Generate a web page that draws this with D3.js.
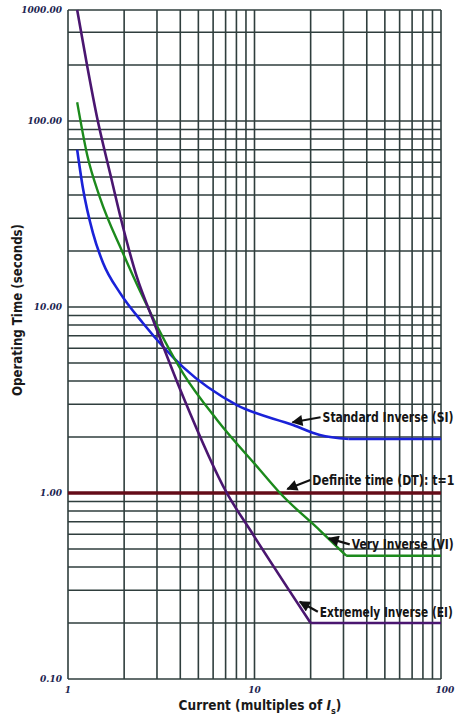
<!DOCTYPE html>
<html>
<head>
<meta charset="utf-8">
<script src="https://cdn.jsdelivr.net/npm/d3@7"></script>
<style>
  body { margin: 0; background: #fff; }
  svg { display: block; }
  .lbl { font-family: "DejaVu Sans Condensed", "Liberation Sans Narrow", sans-serif; font-weight: bold; }
</style>
</head>
<body>
<div class="chart"></div>
<script>
// values: current in multiples of Is, time in seconds
const siCurrent = [1.12, 1.2, 1.36, 1.54, 1.9, 2.52, 4.14, 8.05, 16.1, 22.4, 32, 100];
const siTimes = [70, 44, 25, 17.3, 11.9, 8.2, 4.75, 2.97, 2.32, 2.05, 1.95, 1.95];
const viCurrent = [1.12, 1.27, 1.48, 1.97, 2.52, 4.14, 6.3, 10.7, 13.7, 22.4, 31, 100];
const viTimes = [126, 65, 39, 19.5, 11.3, 4.4, 2.47, 1.33, 1.0, 0.63, 0.46, 0.46];
const eiCurrent = [1.12, 1.27, 1.43, 1.68, 1.97, 2.34, 2.86, 4.14, 7.1, 9.5, 20, 100];
const eiTimes = [395, 195, 105, 52.5, 27, 14.5, 8.5, 3.3, 1.0, 0.63, 0.2, 0.2];
const dtCurrent = [1, 100];
const dtTimes = [1, 1];

const yTicks = [0.1, 1, 10, 100];
const yTickLabels = ["0.10", "1.00", "10.00", "100.00"];
const topLabel = "1000.00";
const xTicks = [1, 10, 100];
const xTickLabels = ["1", "10", "100"];

// curve labels: text, current and time at the arrow tip
const calloutText = ["Standard Inverse (SI)", "Definite time (DT): t=1", "Very Inverse (VI)", "Extremely Inverse (EI)"];
const calloutCurrent = [16, 15, 25, 17.5];
const calloutTime = [2.4, 1.05, 0.57, 0.26];

// layout of each callout: [text dx, text dy, text width] relative to the tip
const calloutLayout = [[30, -1, 131], [25, -5, 142], [23, 10, 102], [20, 14, 133]];

const width = 474, height = 716;
const svg = d3.select(".chart").append("svg")
  .attr("width", width).attr("height", height);

const x = d3.scaleLog().domain([1, 100]).range([68, 441]);
const y = d3.scaleLog().domain([0.1, 395]).range([679, 10]);

const gridCol = "#2f3e3d";

// grid
const xGrid = [];
for (let d = 1; d < 100; d *= 10) for (let k = 1; k < 10; k++) xGrid.push(d * k);
xGrid.push(100);
const yGrid = [];
for (let d = 0.1; d < 300; d *= 10) for (let k = 1; k < 10; k++) { const v = +(d * k).toPrecision(3); if (v <= 395) yGrid.push(v); }

const g = svg.append("g");
g.selectAll(".vgrid").data(xGrid).join("line")
  .attr("class", "vgrid")
  .attr("x1", d => x(d)).attr("x2", d => x(d))
  .attr("y1", y(0.1)).attr("y2", y(395))
  .attr("stroke", gridCol).attr("stroke-width", 1.6);
g.selectAll(".hgrid").data(yGrid).join("line")
  .attr("class", "hgrid")
  .attr("x1", x(1)).attr("x2", x(100))
  .attr("y1", d => y(d)).attr("y2", d => y(d))
  .attr("stroke", gridCol).attr("stroke-width", 1.6);
g.append("line").attr("x1", x(1)).attr("x2", x(100)).attr("y1", y(395)).attr("y2", y(395))
  .attr("stroke", gridCol).attr("stroke-width", 1.6);

// curves: curved part smooth, flat tail straight
const smooth = d3.line().x(d => x(d[0])).y(d => y(d[1])).curve(d3.curveMonotoneX);
const straight = d3.line().x(d => x(d[0])).y(d => y(d[1]));
const series = [
  { c: siCurrent, t: siTimes, col: "#1a22d8", w: 2.6 },
  { c: viCurrent, t: viTimes, col: "#1c8a1c", w: 2.4 },
  { c: eiCurrent, t: eiTimes, col: "#4a1670", w: 2.6 }
];

svg.append("path")
  .datum(d3.zip(dtCurrent, dtTimes))
  .attr("d", straight)
  .attr("fill", "none").attr("stroke", "#640c18").attr("stroke-width", 3.4);

series.forEach(s => {
  const pts = d3.zip(s.c, s.t);
  const n = pts.length;
  svg.append("path")
    .datum(pts.slice(0, n - 1))
    .attr("d", smooth)
    .attr("fill", "none").attr("stroke", s.col).attr("stroke-width", s.w)
    .attr("stroke-linejoin", "round");
  svg.append("path")
    .datum(pts.slice(n - 2))
    .attr("d", straight)
    .attr("fill", "none").attr("stroke", s.col).attr("stroke-width", s.w);
});

// callouts
svg.append("defs").append("marker")
  .attr("id", "ah").attr("viewBox", "0 0 10 10")
  .attr("refX", 9).attr("refY", 5)
  .attr("markerWidth", 6).attr("markerHeight", 5)
  .attr("markerUnits", "strokeWidth")
  .attr("orient", "auto")
  .append("path").attr("d", "M0,0 L10,5 L0,10 z").attr("fill", "#111");

calloutText.forEach((txt, i) => {
  const tx = x(calloutCurrent[i]), ty = y(calloutTime[i]);
  const [dx, dy, w] = calloutLayout[i];
  const sx = tx + dx - 2, sy = ty + dy - 4;
  svg.append("line")
    .attr("x1", sx).attr("y1", sy).attr("x2", tx).attr("y2", ty)
    .attr("stroke", "#111").attr("stroke-width", 2.2)
    .attr("marker-end", "url(#ah)");
  svg.append("text").attr("class", "lbl")
    .attr("x", tx + dx).attr("y", ty + dy + 1)
    .attr("font-size", 14).attr("fill", "#151515")
    .attr("textLength", w).attr("lengthAdjust", "spacingAndGlyphs")
    .text(txt);
});

// tick labels
const tickFont = "bold italic 9px 'DejaVu Serif', serif";
svg.selectAll(".ylab").data(yTicks).join("text")
  .attr("class", "ylab")
  .attr("x", 62).attr("y", d => y(d) + 3)
  .attr("text-anchor", "end")
  .style("font", tickFont).attr("fill", "#1c2450")
  .text((d, i) => yTickLabels[i]);
svg.append("text")
  .attr("x", 62).attr("y", y(395) + 3)
  .attr("text-anchor", "end")
  .style("font", tickFont).attr("fill", "#1c2450")
  .text(topLabel);
svg.selectAll(".xlab").data(xTicks).join("text")
  .attr("class", "xlab")
  .attr("x", (d, i) => x(d) + (i === 2 ? 4 : 0)).attr("y", 693)
  .attr("text-anchor", "middle")
  .style("font", tickFont).attr("fill", "#1c2450")
  .text((d, i) => xTickLabels[i]);

// axis titles
svg.append("text").attr("class", "lbl")
  .attr("transform", "translate(22,310) rotate(-90)")
  .attr("text-anchor", "middle")
  .attr("font-size", 14).attr("fill", "#1a1a1a")
  .attr("textLength", 172).attr("lengthAdjust", "spacingAndGlyphs")
  .text("Operating Time (seconds)");

const xt = svg.append("text").attr("class", "lbl")
  .attr("x", 260).attr("y", 710)
  .attr("text-anchor", "middle")
  .attr("font-size", 13.5).attr("fill", "#1a1a1a");
xt.append("tspan").text("Current (multiples of ");
xt.append("tspan").attr("font-style", "italic").text("I");
xt.append("tspan").attr("font-size", 9).attr("dy", 4).text("s");
xt.append("tspan").attr("dy", -4).text(")");
</script>
</body>
</html>
